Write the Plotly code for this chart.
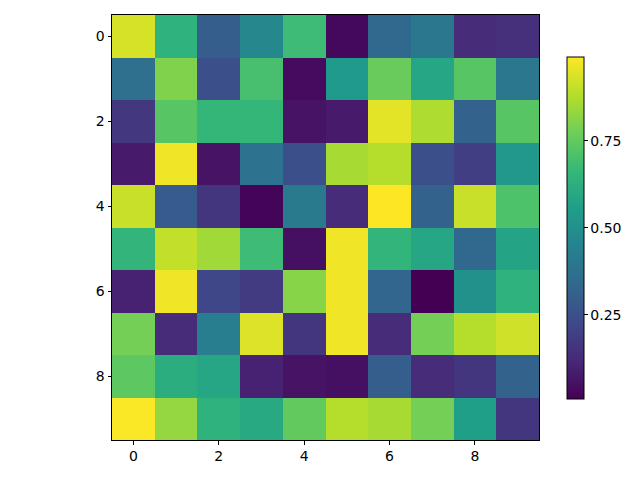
import plotly.graph_objects as go

rows = list(range(10))
cols = list(range(10))
values = [
    [0.93, 0.64, 0.30, 0.47, 0.68, 0.03, 0.34, 0.40, 0.13, 0.14],
    [0.37, 0.80, 0.25, 0.70, 0.04, 0.54, 0.76, 0.59, 0.73, 0.40],
    [0.17, 0.73, 0.66, 0.66, 0.06, 0.08, 0.95, 0.87, 0.32, 0.73],
    [0.08, 0.97, 0.06, 0.38, 0.25, 0.86, 0.88, 0.25, 0.19, 0.53],
    [0.91, 0.29, 0.16, 0.02, 0.41, 0.13, 0.99, 0.32, 0.91, 0.71],
    [0.65, 0.90, 0.85, 0.68, 0.05, 0.97, 0.65, 0.59, 0.34, 0.58],
    [0.10, 0.97, 0.22, 0.18, 0.81, 0.97, 0.33, 0.009, 0.50, 0.64],
    [0.78, 0.13, 0.43, 0.94, 0.16, 0.97, 0.13, 0.78, 0.88, 0.92],
    [0.74, 0.62, 0.59, 0.10, 0.06, 0.05, 0.30, 0.13, 0.16, 0.32],
    [0.985, 0.83, 0.64, 0.60, 0.75, 0.88, 0.86, 0.78, 0.56, 0.16],
]
cbar_ticks = [0.25, 0.50, 0.75]
cbar_ticktext = ["0.25", "0.50", "0.75"]
axis_ticks = [0, 2, 4, 6, 8]

fig = go.Figure(go.Heatmap(
    z=values, x=cols, y=rows, colorscale="Viridis",
    colorbar=dict(
        x=1.0656, xanchor="left", xref="paper",
        y=0.499, yanchor="middle", len=0.805, lenmode="fraction",
        thickness=17, thicknessmode="pixels",
        outlinewidth=1, outlinecolor="black",
        tickvals=cbar_ticks, ticktext=cbar_ticktext,
        ticks="outside", ticklen=3.5, tickwidth=0.8, tickcolor="black",
        tickfont=dict(family="DejaVu Sans", size=14, color="black"),
        xpad=0, ypad=0,
    ),
))

axis_common = dict(
    showgrid=False, zeroline=False, showline=True, mirror=True,
    linecolor="black", linewidth=1,
    ticks="outside", ticklen=3.5, tickwidth=0.8, tickcolor="black",
    tickvals=axis_ticks, ticktext=[str(t) for t in axis_ticks],
    tickfont=dict(family="DejaVu Sans", size=14, color="black"),
)
fig.update_xaxes(range=[-0.5, 9.5], **axis_common)
fig.update_yaxes(range=[9.5, -0.5], **axis_common)

fig.update_layout(
    width=632, height=472,
    margin=dict(l=104, r=101, t=7, b=40),
    paper_bgcolor="white", plot_bgcolor="white",
    font=dict(family="DejaVu Sans", size=14, color="black"),
)

fig.write_html("out.html")
